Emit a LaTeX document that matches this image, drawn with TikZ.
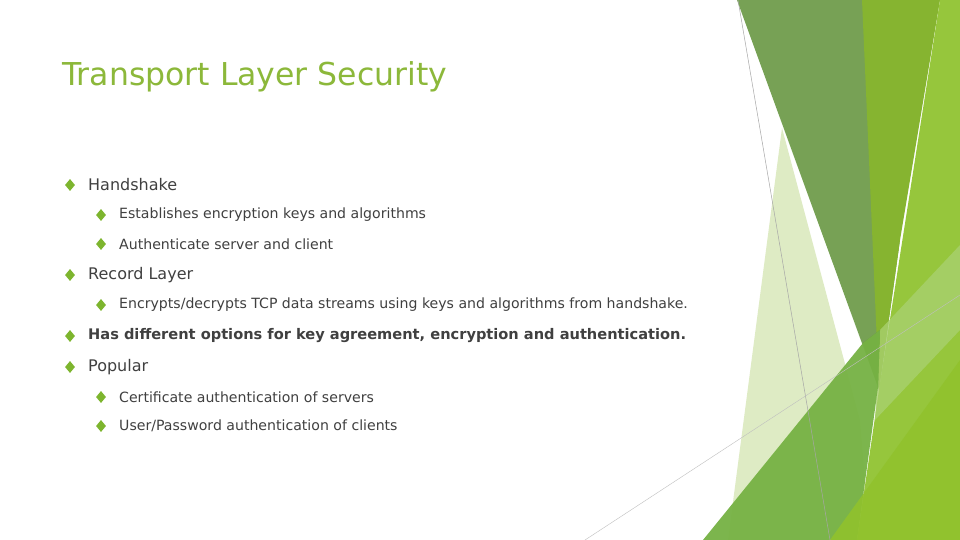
\documentclass[tikz,border=0pt]{standalone}
\usepackage{fontspec}
\setmainfont{DejaVu Sans}
\usetikzlibrary{shapes.geometric}
\definecolor{ttl}{HTML}{8CB83A}
\definecolor{txt}{HTML}{404040}
\definecolor{bul}{HTML}{7DB52E}
\tikzset{
 bl/.style={diamond,fill=bul,inner sep=0pt,minimum width=10pt,minimum height=12pt},
 l1/.style={anchor=west,text=txt,inner sep=0pt,font=\fontsize{16}{18}\selectfont},
 l2/.style={anchor=west,text=txt,inner sep=0pt,font=\fontsize{14.1}{16}\selectfont},
}
\begin{document}
\begin{tikzpicture}[x=1pt,y=-1pt]
\fill[white] (0,0) rectangle (960,540);
\useasboundingbox (0,0) rectangle (960,540);
% decoration
\fill[color={rgb,255:red,222;green,235;blue,196}] (782,128) -- (728,540) -- (870,540) -- (860,420) -- cycle;
\fill[color={rgb,255:red,112;green,157;blue,76},opacity=0.95] (737,0) -- (862,0) -- (900,240) -- (879,390) -- cycle;
\fill[color={rgb,255:red,134;green,180;blue,48}] (862,0) -- (940,0) -- (900,240) -- (879,390) -- cycle;
\fill[color={rgb,255:red,150;green,198;blue,60}] (940,0) -- (960,0) -- (960,540) -- (857,540) -- (880,383) -- cycle;
\fill[color={rgb,255:red,168;green,208;blue,110},opacity=0.8] (960,245) -- (880,330) -- (875,420) -- (960,330) -- cycle;
\fill[color={rgb,255:red,90;green,150;blue,40},opacity=0.6] (863,343) -- (880,330) -- (878,387) -- cycle;
\fill[color={rgb,255:red,118;green,178;blue,68},opacity=0.95] (703,540) -- (863,343) -- (880,330) -- (878,387) -- (857,540) -- cycle;
\fill[color={rgb,255:red,145;green,194;blue,45},opacity=0.9] (830,540) -- (960,360) -- (960,540) -- cycle;
\coordinate (g1a) at (738,0); \coordinate (g1b) at (830,540);
\coordinate (g2a) at (585,540); \coordinate (g2b) at (960,295);
\draw[gray!70,line width=0.5pt] (g1a) -- (g1b);
\draw[gray!50,line width=0.4pt] (g2a) -- (g2b);
% title
\node[anchor=base west,text=ttl,font=\fontsize{31.5}{36}\selectfont,inner sep=0pt] (title) at (62,86) {Transport Layer Security};
% bullets
\node[bl] (b1) at (70,185) {}; \node[l1] (t1) at (88,185) {Handshake};
\node[bl] (b11) at (101,215) {}; \node[l2] (t11) at (119,215) {Establishes encryption keys and algorithms};
\node[bl] (b12) at (101,244) {}; \node[l2] (t12) at (119,244) {Authenticate server and client};
\node[bl] (b2) at (70,275) {}; \node[l1] (t2) at (88,275) {Record Layer};
\node[bl] (b21) at (101,305) {}; \node[l2] (t21) at (119,305) {Encrypts/decrypts TCP data streams using keys and algorithms from handshake.};
\node[bl] (b3) at (70,336) {}; \node[l1,font=\bfseries\fontsize{14.6}{18}\selectfont] (t3) at (88,336) {Has different options for key agreement, encryption and authentication.};
\node[bl] (b4) at (70,367) {}; \node[l1] (t4) at (88,367) {Popular};
\node[bl] (b41) at (101,397) {}; \node[l2] (t41) at (119,397) {Certificate authentication of servers};
\node[bl] (b42) at (101,426) {}; \node[l2] (t42) at (119,426) {User/Password authentication of clients};
\end{tikzpicture}
\end{document}
